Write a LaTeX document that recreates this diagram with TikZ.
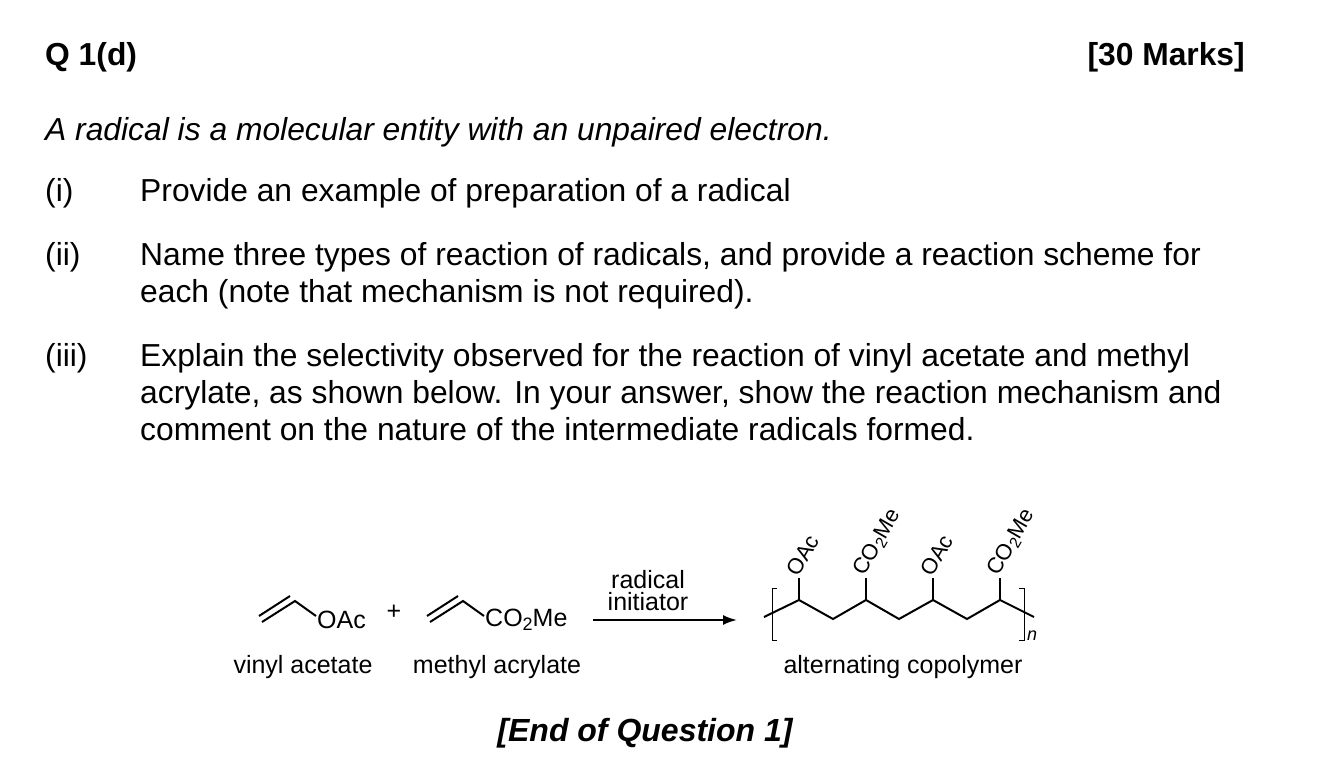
\documentclass[tikz,border=0pt]{standalone}
\usepackage{fontspec}
\setmainfont{Liberation Sans}
\usetikzlibrary{arrows.meta}
\newcommand{\sbt}[1]{\raisebox{-0.3ex}{\scalebox{0.72}{#1}}}
\begin{document}
\begin{tikzpicture}[x=1pt,y=-1pt,
  txt/.style={anchor=base west,inner sep=0pt,font=\fontsize{31.8}{37}\selectfont},
  chem/.style={inner sep=0pt,font=\fontsize{25}{26}\selectfont},
  bond/.style={line width=2pt},
  sub/.style={inner sep=0pt,anchor=west,rotate=60,font=\fontsize{22}{22}\selectfont}]
\useasboundingbox (0,0) rectangle (1328,784);
\node[txt,font=\fontsize{31.8}{37}\selectfont\bfseries] (q) at (45,66) {Q 1(d)};
\node[txt,anchor=base east,font=\fontsize{31.8}{37}\selectfont\bfseries] (m) at (1245,66) {[30 Marks]};
\node[txt,font=\fontsize{31.8}{37}\selectfont\itshape] (a) at (45,140) {A radical is a molecular entity with an unpaired electron.};
\node[txt] (l1) at (45,201) {(i)};
\node[txt] (t1) at (140,201) {Provide an example of preparation of a radical};
\node[txt] (l2) at (45,265) {(ii)};
\node[txt] (t2) at (140,265) {Name three types of reaction of radicals, and provide a reaction scheme for};
\node[txt] (t2b) at (140,302) {each (note that mechanism is not required).};
\node[txt] (l3) at (45,366) {(iii)};
\node[txt] (t3) at (140,366) {Explain the selectivity observed for the reaction of vinyl acetate and methyl};
\node[txt] (t3b) at (140,403) {acrylate, as shown below. In your answer, show the reaction mechanism and};
\node[txt] (t3c) at (140,440) {comment on the nature of the intermediate radicals formed.};
% vinyl acetate
\coordinate (v1) at (262,622); \coordinate (v2) at (295,601); \coordinate (v3) at (316,616);
\draw[bond] (v1) -- (v2) -- (v3);
\draw[bond] (259,616) -- (290,596);
\node[chem,anchor=west] (oac) at (317,620) {OAc};
\node[chem] (plus) at (394,612) {+};
\coordinate (w1) at (430,622); \coordinate (w2) at (463,601); \coordinate (w3) at (484,616);
\draw[bond] (w1) -- (w2) -- (w3);
\draw[bond] (427,616) -- (458,596);
\node[chem,anchor=west] (co) at (485,620) {CO\sbt{2}Me};
\node[chem,align=center,anchor=south,font=\fontsize{25}{22}\selectfont] (ri) at (648,611) {radical\\initiator};
\coordinate (ar1) at (593,620); \coordinate (ar2) at (737,620);
\draw[line width=2pt,-{Latex[length=14pt,width=10pt]}] (ar1) -- (ar2);
\node[chem] (va) at (303,667) {vinyl acetate};
\node[chem] (ma) at (497,667) {methyl acrylate};
% polymer
\draw[bond] (764,617) -- (799,600) -- (833,619) -- (866,600) -- (899,619) -- (933,600) -- (967,619) -- (1000,600) -- (1034,617);
\foreach \x/\l in {799/OAc,866/CO\sbt{2}Me,933/OAc,1000/CO\sbt{2}Me}{
  \draw[bond] (\x,600) -- (\x,578);
  \node[sub] at (\x-7,574) {\l};
}
\draw[line width=1pt] (777,588) -- (772,588) -- (772,640) -- (777,640);
\draw[line width=1pt] (1019,588) -- (1024,588) -- (1024,640) -- (1019,640);
\node[chem,font=\fontsize{18}{18}\selectfont\itshape] (n) at (1032,636) {n};
\node[chem] (ac) at (903,667) {alternating copolymer};
\node[chem,font=\fontsize{32}{32}\selectfont\bfseries\itshape] (end) at (645,733) {[End of Question 1]};
\end{tikzpicture}
\end{document}
